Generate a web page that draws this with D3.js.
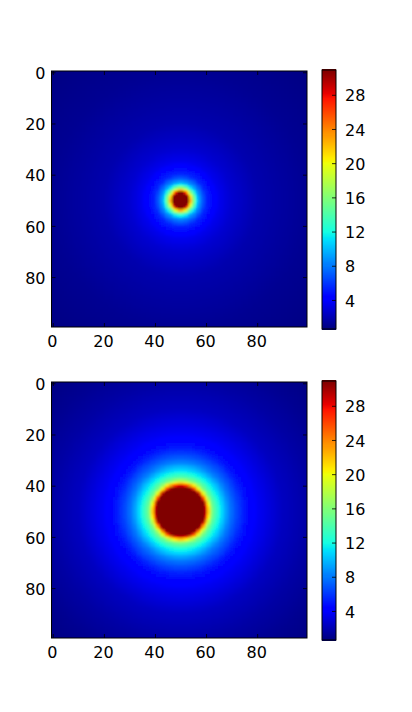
<!DOCTYPE html>
<html><head><meta charset="utf-8">
<script src="https://cdn.jsdelivr.net/npm/d3@7"></script>
<style>html,body{margin:0;padding:0;background:#fff}svg{display:block}</style>
</head><body><svg id="c" width="412" height="712"></svg>
<script>
const axisTicks=[0,20,40,60,80];
const barTicks=[4,8,12,16,20,24,28];
const centre=[50,50];
const radiiTop=[0,2.8,3.2,3.7,4.2,4.8,6,7.2,8.4,10,15,20,30,50,71];
const valuesTop=[40,34,31,26,21,17,12,8.8,7.4,5.5,3.5,2.7,1.8,1.1,0.7];
const radiiBottom=[0,9,9.7,10.6,11.5,12.5,14.5,17,19,21,25,30,40,50,60,71];
const valuesBottom=[40,36,31,24,19,15.5,12.5,10,8.2,7,5,3.7,2.3,1.6,1.1,0.7];
const domainMin=0.6,domainMax=30.9;
const jetR=[[0,0],[.35,0],[.66,1],[.89,1],[1,.5]];
const jetG=[[0,0],[.125,0],[.375,1],[.64,1],[.91,0],[1,0]];
const jetB=[[0,.5],[.11,1],[.34,1],[.65,0],[1,0]];
const chan=a=>d3.scaleLinear().domain(a.map(d=>d[0])).range(a.map(d=>d[1])).clamp(true);
const [cr,cg,cb]=[jetR,jetG,jetB].map(chan);
const norm=d3.scaleLinear().domain([domainMin,domainMax]).clamp(true);
const color=v=>{const t=norm(v);return `rgb(${Math.round(cr(t)*255)},${Math.round(cg(t)*255)},${Math.round(cb(t)*255)})`};
const svg=d3.select("#c");
const defs=svg.append("defs");
defs.append("filter").attr("id","soft").attr("x",0).attr("y",0).attr("width",1).attr("height",1)
  .append("feGaussianBlur").attr("stdDeviation",1);
const idx=d3.range(100);
const style=a=>{a.selectAll("text").style("font-size","16px").style("font-family","DejaVu Sans").attr("fill","#000");a.select(".domain").remove();a.selectAll("line").attr("stroke","#000").attr("stroke-opacity",.8)};
function panel(top,radii,values,name){
  const x=d3.scaleLinear().domain([-.5,99.5]).range([51.5,307]);
  const y=d3.scaleLinear().domain([-.5,99.5]).range([top,top+256]);
  const prof=d3.scaleLinear().domain(radii).range(values).clamp(true);
  const g=svg.append("g");
  defs.append("clipPath").attr("id",name).append("rect").attr("x",51.5).attr("y",top).attr("width",255.5).attr("height",256);
  const cells=idx.flatMap(j=>idx.map(i=>({i,j,v:prof(Math.hypot(i-centre[0],j-centre[1]))})));
  const im=g.append("g").attr("clip-path",`url(#${name})`).append("g").attr("filter","url(#soft)").attr("shape-rendering","crispEdges");
  im.append("rect").attr("x",41).attr("y",top-10).attr("width",276).attr("height",276).attr("fill",color(values[values.length-1]));
  im.selectAll("rect.cell").data(cells).join("rect").attr("class","cell")
   .attr("x",d=>x(d.i-.5)).attr("y",d=>y(d.j-.5)).attr("width",x(1)-x(0)+.6).attr("height",y(1)-y(0)+.6).attr("fill",d=>color(d.v));
  const f=d3.format("d");
  const ax=g.append("g").attr("transform",`translate(0,${top+256})`).call(d3.axisBottom(x).tickValues(axisTicks).tickFormat(f).tickSizeInner(-4).tickSizeOuter(0).tickPadding(10));
  const ay=g.append("g").attr("transform",`translate(51.5,0)`).call(d3.axisLeft(y).tickValues(axisTicks).tickFormat(f).tickSizeInner(-4).tickSizeOuter(0).tickPadding(5));
  const ax2=g.append("g").attr("transform",`translate(0,${top})`).call(d3.axisTop(x).tickValues(axisTicks).tickFormat("").tickSizeInner(-4).tickSizeOuter(0));
  const ay2=g.append("g").attr("transform",`translate(307,0)`).call(d3.axisRight(y).tickValues(axisTicks).tickFormat("").tickSizeInner(-4).tickSizeOuter(0));
  [ax,ay,ax2,ay2].forEach(style);
  ay.selectAll("text").attr("transform","translate(-1,1)");
  ax.selectAll("text").attr("transform","translate(-1,-1)");
  g.append("rect").attr("x",51.5).attr("y",top).attr("width",255.5).attr("height",256).attr("fill","none").attr("stroke","#000");
  const by=d3.scaleLinear().domain([domainMin,domainMax]).range([top+258,top-1]);
  const levels=d3.range(256).map(k=>domainMin+(domainMax-domainMin)*k/255);
  g.append("g").attr("shape-rendering","crispEdges").selectAll("rect").data(levels).join("rect")
   .attr("x",322).attr("width",14).attr("y",d=>by(d)-1.5).attr("height",2).attr("fill",color);
  const bar=g.append("g").attr("transform","translate(336,0)").call(d3.axisRight(by).tickValues(barTicks).tickFormat(f).tickSizeInner(-4).tickSizeOuter(0).tickPadding(9));
  style(bar);
  bar.selectAll("text").attr("transform","translate(0,1)");
  g.append("rect").attr("x",322).attr("y",top-1).attr("width",14).attr("height",259).attr("fill","none").attr("stroke","#000");
}
panel(71,radiiTop,valuesTop,"clipTop");
panel(382,radiiBottom,valuesBottom,"clipBottom");
</script></body></html>
